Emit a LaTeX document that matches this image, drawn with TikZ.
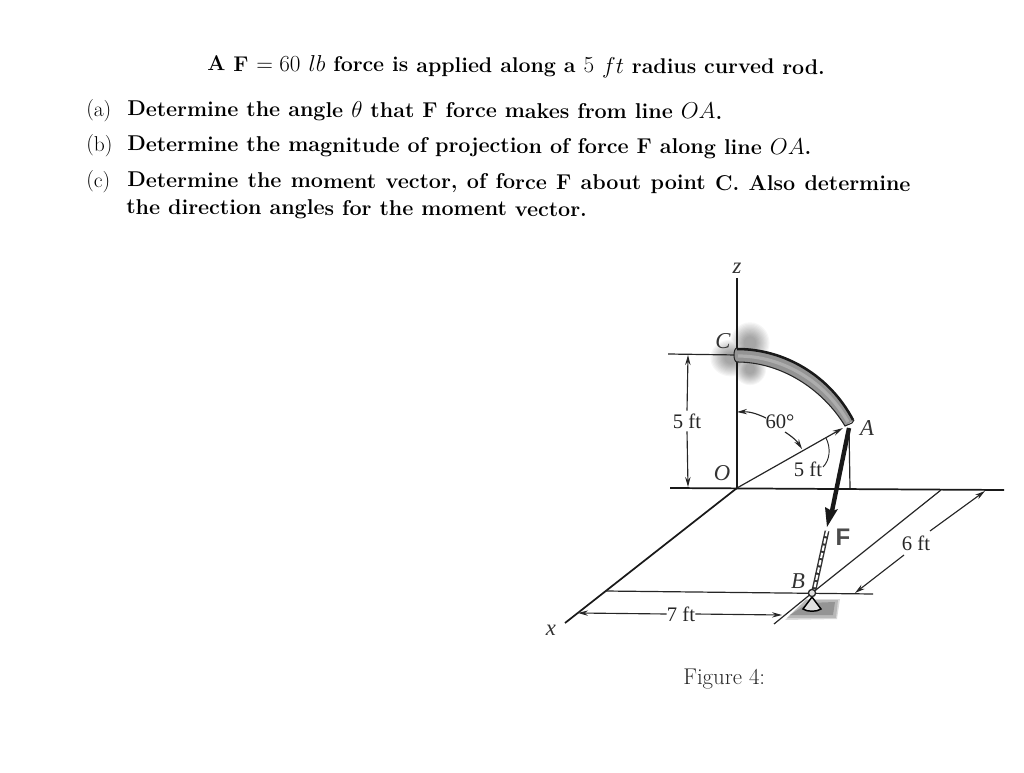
\documentclass[tikz,border=0pt]{standalone}
\usepackage{fontspec}
\newfontfamily\figserif{Liberation Serif}
\newfontfamily\figsans{Liberation Sans}
\usetikzlibrary{arrows.meta,calc}
\tikzset{
  para/.style={anchor=base west,inner sep=0pt,rotate=-0.3,font=\fontsize{16.1}{18}\selectfont},
  figlabel/.style={inner sep=0pt,font=\figserif\fontsize{15.5}{17}\selectfont,text=black!85},
  figit/.style={inner sep=0pt,font=\figserif\itshape\fontsize{17}{17}\selectfont,text=black!80},
  axisline/.style={line width=1.3pt,black!90},
  thinline/.style={line width=.9pt,black!85},
  dimline/.style={line width=.85pt,black!85,-{Stealth[length=7.5pt,width=4pt]}},
  blot/.style={fill=black,fill opacity=.035,draw=none},
}
\begin{document}
\begin{tikzpicture}[x=.75pt,y=.75pt]
\useasboundingbox (0,0) rectangle (1024,-773);
% coordinates
\coordinate (O) at (737,-488);
\coordinate (ztop) at (737,-278);
\coordinate (C) at (737,-355);
\coordinate (Cl) at (668,-354);
\coordinate (A) at (849,-428);
\coordinate (Afoot) at (850,-488);
\coordinate (gl) at (670,-488);
\coordinate (gr) at (1004,-490);
\coordinate (xend) at (565,-623);
\coordinate (B) at (812,-593);
\coordinate (bl) at (605,-591);
\coordinate (br) at (873,-594);
\coordinate (bt) at (941,-490);
\coordinate (bd) at (774,-624);
% shaded blots
\foreach \k in {1.15,1.08,1,.93,.86,.79,.72,.65,.58,.51,.44,.37}{
  \fill[blot] (750,-343) ellipse [x radius=17*\k,y radius=18*\k]
              (731,-358) ellipse [x radius=18*\k,y radius=16*\k]
              (750,-369) ellipse [x radius=14*\k,y radius=14*\k];
}
\fill[black!14] (785,-620) -- (806,-599) -- (840,-599) -- (837,-619) -- cycle;
\fill[black!28] (787,-618) -- (806,-600) -- (838,-600) -- (836,-618) -- cycle;
\fill[black!42] (790,-615) -- (808,-603) -- (835,-602) -- (833,-615) -- cycle;
% axes and lines
\draw[axisline] (ztop) -- (O);
\draw[axisline] (gl) -- (gr);
\draw[axisline] (O) -- (xend);
\draw[thinline] (Cl) -- (C);
\draw[thinline] (A) -- (Afoot);
\draw[thinline] (bl) -- (br);
\draw[thinline] (B) -- (bt);
\draw[thinline] (B) -- (bd);
% OA with arrow
\draw[thinline,-{Stealth[length=8pt,width=4pt]}] (O) -- (843,-428);
% rod
\fill[black!42] (737,-348) .. controls (785,-348) and (830,-375) .. (854,-420)
  -- (845,-426) .. controls (822,-388) and (780,-362) .. (737,-362)
  .. controls (733,-362) and (733,-348) .. (737,-348) -- cycle;
\draw[line width=1.9pt,black!90] (737,-349) .. controls (785,-349) and (830,-376) .. (853,-420);
\draw[line width=.8pt,black!85] (854,-420) -- (852,-423) -- (845,-426) .. controls (822,-388) and (780,-362) .. (737,-362)
  .. controls (733,-362) and (733,-348) .. (737,-348);
\draw[line width=2.4pt,black!32] (738,-356) .. controls (782,-356) and (825,-381) .. (848,-422);
% 5 ft left dimension
\coordinate (dT) at (688,-355);
\coordinate (dB) at (688,-487);
\node[figlabel,fill=white,inner sep=2pt] (L5a) at (687,-421) {5 ft};
\draw[dimline] (L5a.north) -- (dT);
\draw[dimline] (L5a.south) -- (dB);
% 60 degree dimension
\node[figlabel] (L60) at (780,-422) {60°};
\draw[dimline] (766,-418) to[bend right=14] (737,-412);
\draw[dimline] (785,-432) to[bend left=12] (802,-449);
% 5 ft along OA
\node[figlabel] (L5b) at (808,-469) {5 ft};
\draw[thinline,line width=.7pt] (826,-438) .. controls (831,-448) and (830,-460) .. (823,-467);
% force and cable
\draw[line width=3.6pt,black!80] (827,-531) -- (814,-590);
\draw[line width=1.5pt,white,dash pattern=on 4pt off 1.6pt] (827,-531) -- (814,-590);
\draw[line width=3.3pt,black!90] (849,-428) -- (832,-511);
\fill[black!90] (825,-507) -- (832,-511) -- (838,-509) -- (827,-527) -- cycle;
% support and pin
\draw[line width=1.1pt,black,fill=black!12] (812,-597) -- (803,-609) .. controls (807,-612) and (817,-612) .. (821,-609) -- cycle;
\draw[line width=1pt,black!85,fill=black!12] (B) circle [radius=3.6];
% 6 ft dimension
\node[figlabel] (L6) at (916,-543) {6 ft};
\draw[dimline] (904,-555) -- (855,-593);
\draw[dimline] (930,-531) -- (985,-491);
% 7 ft dimension
\node[figlabel] (L7) at (681,-614) {7 ft};
\draw[dimline] (L7.west) -- (578,-613);
\draw[dimline] (L7.east) -- (782,-615);
% labels
\node[figit] (Lz) at (737,-268) {z};
\node[figit] (LC) at (723,-341) {C};
\node[figit] (LO) at (722,-473) {O};
\node[figit] (LA) at (867,-428) {A};
\node[figit] (LB) at (798,-581) {B};
\node[figit] (Lx) at (551,-630) {x};
\node[inner sep=0pt,font=\figsans\bfseries\fontsize{18}{18}\selectfont,text=black!70] (LF) at (843,-537) {F};
% text
\node[para,font=\fontsize{16}{18}\selectfont] (t0) at (207,-71) {\bfseries A F $=60$ $lb$ force is applied along a $5$ $ft$ radius curved rod.};
\node[para] (tam) at (86,-116) {(a)};
\node[para] (ta) at (127,-116) {\bfseries Determine the angle $\theta$ that F force makes from line $OA$.};
\node[para] (tbm) at (86,-151) {(b)};
\node[para] (tb) at (127,-151) {\bfseries Determine the magnitude of projection of force F along line $OA$.};
\node[para] (tcm) at (86,-187) {(c)};
\node[para] (tc) at (127,-187) {\bfseries\spaceskip=7pt Determine the moment vector, of force F about point C. Also determine};
\node[para] (td) at (126,-214) {\bfseries the direction angles for the moment vector.};
\node[inner sep=0pt,anchor=base west,font=\fontsize{17.1}{19}\selectfont,text=black!85] (fig) at (683,-684) {Figure 4:};
\end{tikzpicture}
\end{document}
